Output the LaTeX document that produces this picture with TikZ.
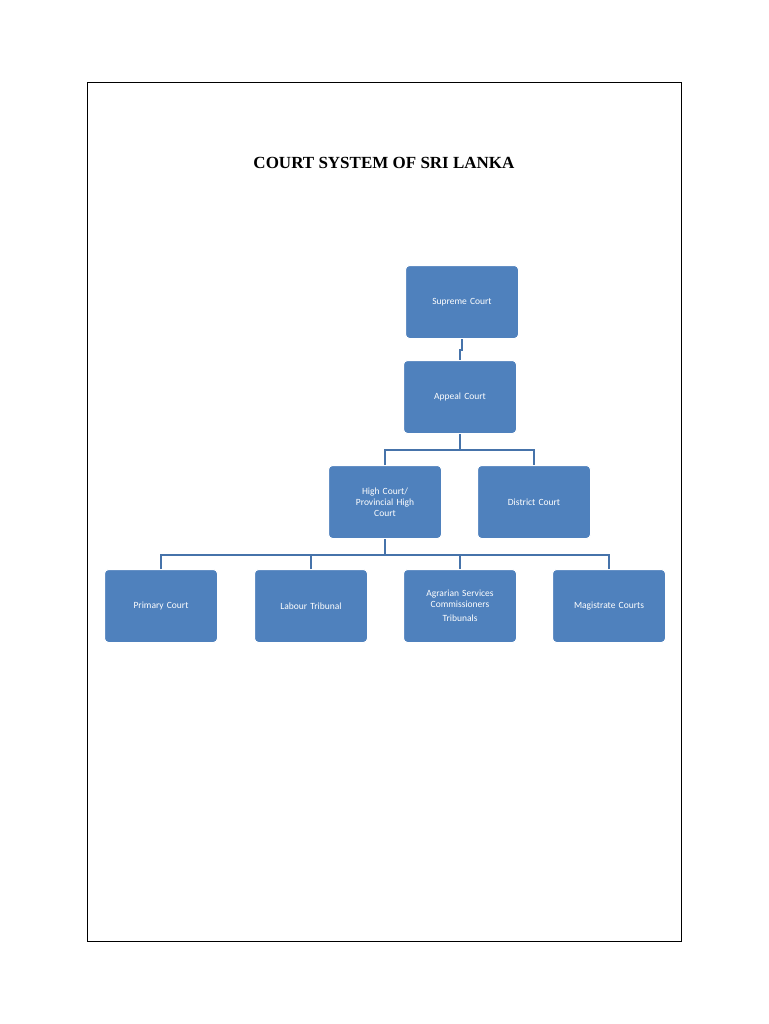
\documentclass[tikz,border=0pt]{standalone}
\usepackage{fontspec}
\setmainfont{Liberation Serif}
\newfontfamily\boxfont{Carlito}
\definecolor{courtblue}{RGB}{79,129,189}
\definecolor{linkblue}{RGB}{70,115,170}
\tikzset{
    court/.style={draw=white, line width=1pt, fill=courtblue, rounded corners=4pt,
        minimum width=113pt, minimum height=73pt, text width=100pt, align=center,
        text=white, font=\boxfont\fontsize{9.5}{11}\selectfont},
    link/.style={draw=linkblue, line width=2.5pt}
}
\begin{document}
\begin{tikzpicture}[x=1pt, y=-1pt]

    \useasboundingbox (0,0) rectangle (768,1024);
    \draw[line width=0.8pt] (87,82) rectangle (681,941);
    \node[font=\bfseries\fontsize{17}{20}\selectfont] (title) at (384,163) {COURT SYSTEM OF SRI LANKA};

    % courts
    \node[court] (supreme) at (462,302) {Supreme Court};
    \node[court] (appeal) at (460,397) {Appeal Court};
    \node[court] (high) at (385,502) {High Court/\\Provincial High\\Court};
    \node[court] (district) at (534,502) {District Court};
    \node[court] (primary) at (161,606) {Primary Court};
    \node[court] (labour) at (311,606) {Labour Tribunal};
    \node[court] (agrarian) at (460,606) {Agrarian Services\\Commissioners\\[3pt]Tribunals};
    \node[court] (magistrate) at (609,606) {Magistrate Courts};

    % links
    \draw[link] (supreme.south) -- ++(0,11) -| (appeal.north);
    \draw[link] (appeal.south) -- ++(0,16) coordinate (busa);
    \draw[link] (high.north) |- (busa) -| (district.north);
    \draw[link] (high.south) -- ++(0,16) coordinate (busb);
    \foreach \c in {primary, labour, agrarian, magistrate}
        \draw[link] (\c.north) |- (busb);

\end{tikzpicture}
\end{document}
